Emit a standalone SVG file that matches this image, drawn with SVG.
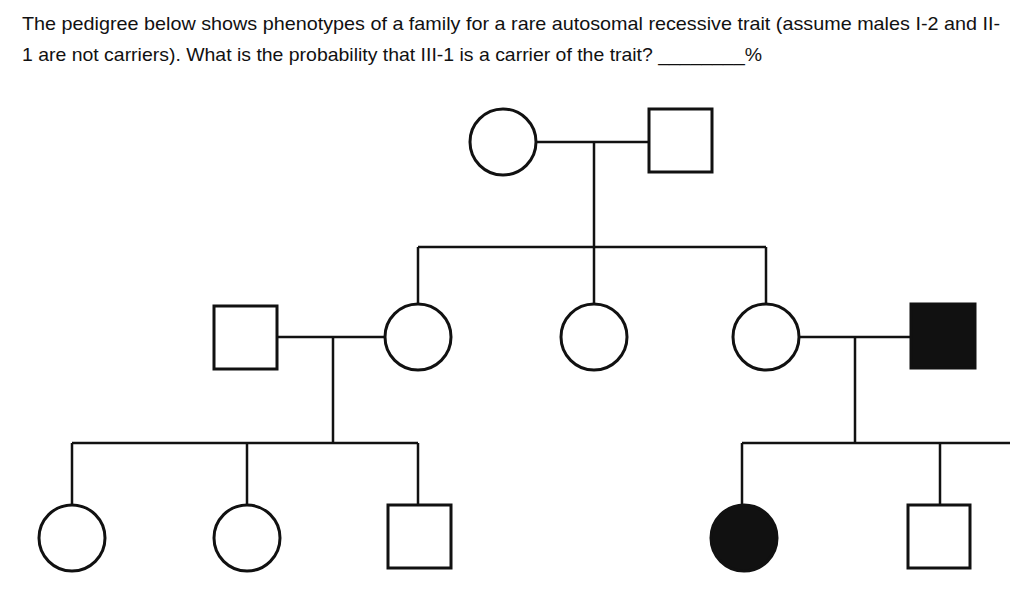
<svg xmlns="http://www.w3.org/2000/svg" width="1024" height="594" viewBox="0 0 1024 594">
<style>
.t{font-family:"Liberation Sans",Arial,sans-serif;font-size:18.5px;fill:#111}
.n{fill:#fff;stroke:#111;stroke-width:3}
.a{fill:#111;stroke:#111;stroke-width:3}
.c{stroke:#111;stroke-width:2.5;fill:none}
</style>
<rect width="1024" height="594" fill="#fff"/>
<text class="t" x="22" y="30" textLength="978" lengthAdjust="spacingAndGlyphs">The pedigree below shows phenotypes of a family for a rare autosomal recessive trait (assume males I-2 and II-</text>
<text class="t" x="22" y="61" textLength="740" lengthAdjust="spacingAndGlyphs">1 are not carriers). What is the probability that III-1 is a carrier of the trait? ________%</text>
<g id="connectors">
<path class="c" d="M536 142H649M594 142V247M418 247H766M418 247V304M594 247V304M766 247V304"/>
<path class="c" d="M277 337H385M333 337V443M72 443H418M72 443V505M247 443V505M418 443V505"/>
<path class="c" d="M799 337H910M855 337V443M742 443H1010M742 443V505M940 443V505"/>
</g>
<g id="I-1"><circle class="n" cx="503" cy="142" r="33"/></g>
<g id="I-2"><rect class="n" x="649" y="109" width="63" height="63"/></g>
<g id="II-1"><rect class="n" x="214" y="306" width="63" height="63"/></g>
<g id="II-2"><circle class="n" cx="418" cy="337" r="33"/></g>
<g id="II-3"><circle class="n" cx="594" cy="337" r="33"/></g>
<g id="II-4"><circle class="n" cx="766" cy="337" r="33"/></g>
<g id="II-5"><rect class="a" x="911" y="304" width="64" height="64"/></g>
<g id="III-1"><circle class="n" cx="72" cy="538" r="33"/></g>
<g id="III-2"><circle class="n" cx="247" cy="538" r="33"/></g>
<g id="III-3"><rect class="n" x="388" y="505" width="63" height="63"/></g>
<g id="III-4"><circle class="a" cx="744" cy="538" r="33"/></g>
<g id="III-5"><rect class="n" x="908" y="505" width="62" height="63"/></g>
</svg>
